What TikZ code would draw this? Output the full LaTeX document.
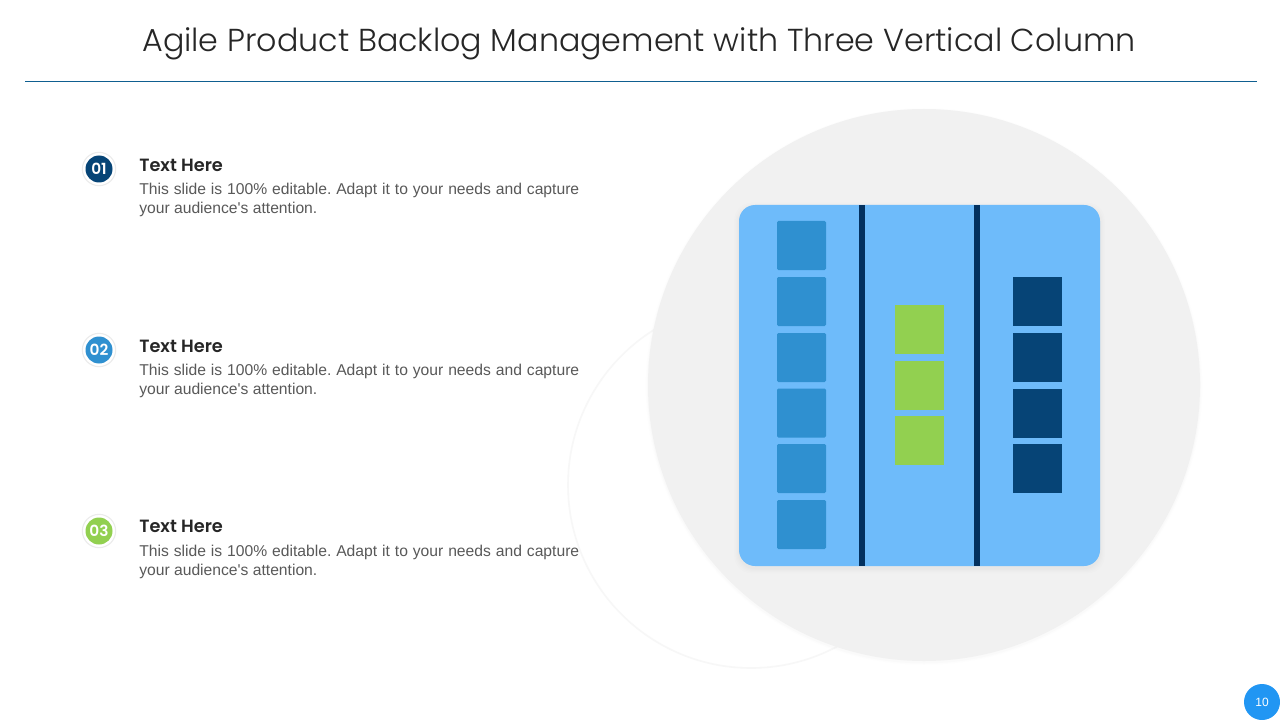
\documentclass[tikz,border=0pt]{standalone}
\usepackage{fontspec}
\newfontfamily\bodyfont{Liberation Sans}
\newfontfamily\headfont{Poppins Light}
\newfontfamily\semifont{Poppins SemiBold}
\definecolor{cdark}{HTML}{064476}
\definecolor{cmid}{HTML}{2F90D0}
\definecolor{cgreen}{HTML}{92D050}
\definecolor{cpanel}{HTML}{6EBBFA}
\definecolor{cbar}{HTML}{03315F}
\definecolor{cgrey}{HTML}{F1F1F1}
\definecolor{cpage}{HTML}{2196F3}
\definecolor{ctext}{HTML}{595959}
\definecolor{chead}{HTML}{262626}
\definecolor{crule}{HTML}{0F5F90}
\tikzset{
  x=0.75pt,y=-0.75pt,
  tile/.style={minimum size=36.75pt,inner sep=0pt,outer sep=0pt,rounded corners=1pt},
  tileb/.style={tile,fill=cmid},
  tileg/.style={tile,fill=cgreen,rounded corners=0pt},
  tiled/.style={tile,fill=cdark,rounded corners=0pt},
  badgering/.style={circle,draw=black!8,fill=white,line width=0.8pt,minimum size=25pt,inner sep=0pt},
  badge/.style={circle,minimum size=20.25pt,inner sep=0pt,text=white,font=\semifont\fontsize{11.5}{12}\selectfont},
  headtext/.style={anchor=west,inner sep=0pt,text=chead,font=\semifont\fontsize{13.3}{16}\selectfont},
  bodytext/.style={anchor=north west,inner sep=0pt,text=ctext,align=left,font=\bodyfont\frenchspacing\fontsize{11.75}{14.25}\selectfont},
  divider/.style={fill=cbar,minimum width=4.5pt,minimum height=270.75pt,inner sep=0pt,outer sep=0pt},
  softdisc/.style={circle,fill=black,fill opacity=0.004,inner sep=0pt},
  softpanel/.style={fill=black,fill opacity=0.008,rounded corners=13pt,inner sep=0pt},
}
\newcommand{\bodylines}{\makebox[330pt][s]{This slide is 100\% editable. Adapt it to your needs and capture}\\your audience's attention.}
\begin{document}
\begin{tikzpicture}
\useasboundingbox (0,0) rectangle (1280,720);
\fill[white] (0,0) rectangle (1280,720);
% title
\node[inner sep=0pt,text=chead,font=\headfont\fontsize{23.8}{28}\selectfont] (title) at (639,44) {Agile Product Backlog Management with Three Vertical Column};
\coordinate (ruleL) at (25,81);
\coordinate (ruleR) at (1257,82);
\fill[crule] (ruleL) rectangle (ruleR);
% background circles
\node[circle,fill=white,draw=black!3,line width=1.2pt,minimum size=274.5pt,inner sep=0pt] (ghost) at (751,485) {};
\foreach \s in {418,417,416,415.5,415}{\node[softdisc,minimum size=\s pt] at (924,386.5) {};}
\node[circle,fill=cgrey,minimum size=414pt,inner sep=0pt] (disc) at (924,385) {};
% panel
\foreach \s in {278,276,274.5,273,272}{\node[softpanel,minimum width=\s pt,minimum height=\s pt] at (919.5,388) {};}
\node[fill=cpanel,rounded corners=12pt,minimum width=270.75pt,minimum height=270.75pt,inner sep=0pt] (panel) at (919.5,385.5) {};
\node[divider] (barA) at (862,385.5) {};
\node[divider] (barB) at (976.5,385.5) {};
% column one
\node[tileb] (a1) at (801.5,245.5) {};
\node[tileb] (a2) at (801.5,301.5) {};
\node[tileb] (a3) at (801.5,357.5) {};
\node[tileb] (a4) at (801.5,413) {};
\node[tileb] (a5) at (801.5,468.5) {};
\node[tileb] (a6) at (801.5,524.5) {};
% column two
\node[tileg] (b1) at (919.5,329.5) {};
\node[tileg] (b2) at (919.5,385.5) {};
\node[tileg] (b3) at (919.5,440.5) {};
% column three
\node[tiled] (c1) at (1037.5,301.5) {};
\node[tiled] (c2) at (1037.5,357.5) {};
\node[tiled] (c3) at (1037.5,413) {};
\node[tiled] (c4) at (1037.5,468.5) {};
% list
\node[badgering] (r1) at (99,169) {};
\node[badge,fill=cdark] (n1) at (99,169) {01};
\node[headtext] (h1) at (139,165.5) {Text Here};
\node[bodytext] (t1) at (139,183) {\bodylines};
\node[badgering] (r2) at (99,350) {};
\node[badge,fill=cmid] (n2) at (99,350) {02};
\node[headtext] (h2) at (139,346.5) {Text Here};
\node[bodytext] (t2) at (139,364) {\bodylines};
\node[badgering] (r3) at (99,531) {};
\node[badge,fill=cgreen] (n3) at (99,531) {03};
\node[headtext] (h3) at (139,526.5) {Text Here};
\node[bodytext] (t3) at (139,545) {\bodylines};
% page number
\node[circle,fill=cpage,minimum size=27pt,inner sep=0pt,text=white,font=\bodyfont\fontsize{9}{9}\selectfont] (page) at (1262,702) {10};
\end{tikzpicture}
\end{document}
